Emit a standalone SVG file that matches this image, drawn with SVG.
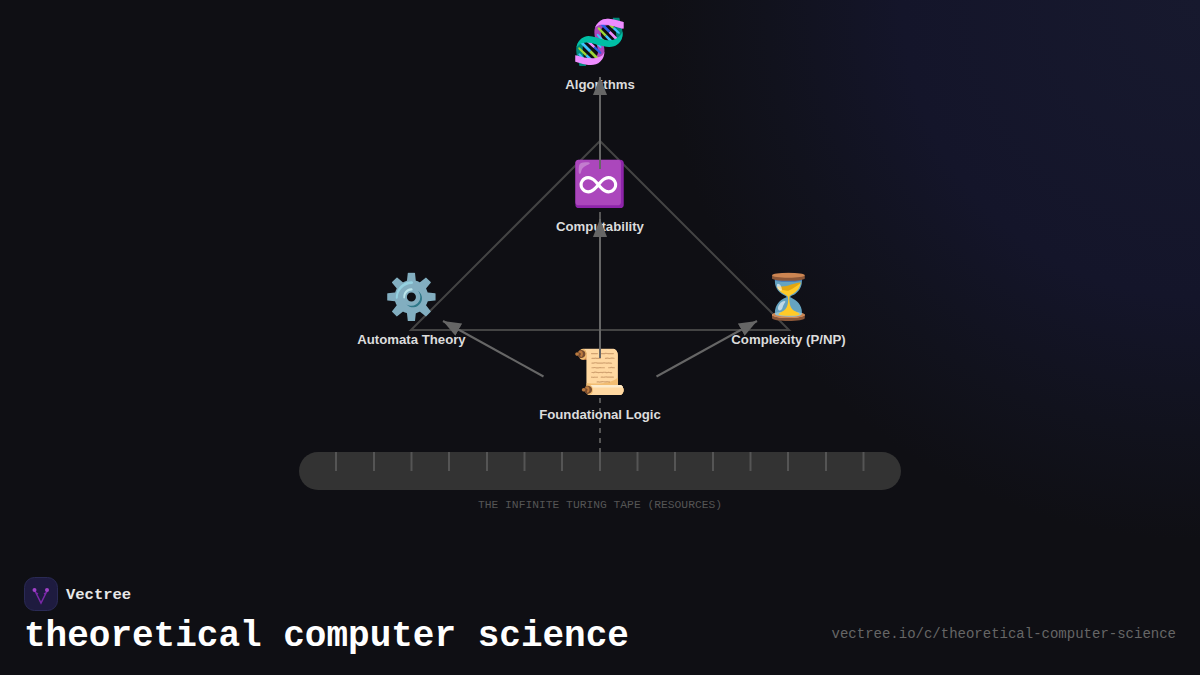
<svg xmlns="http://www.w3.org/2000/svg" width="1200" height="675" viewBox="0 0 1200 675">
<style>
.emoji{font-family:"Noto Color Emoji","Noto Sans",sans-serif;font-size:44px;text-anchor:middle}
.lbl{font-family:"Liberation Sans",Arial,sans-serif;font-size:13.200px;font-weight:700;fill:#dcdcdc;text-anchor:middle}
.arrow{stroke:#666;stroke-width:2;fill:none;marker-end:url(#ahb)}
.tick{stroke:#555;stroke-width:2}
</style>
<defs>
<radialGradient id="glow" gradientUnits="userSpaceOnUse" cx="1200" cy="0" r="540">
<stop offset="0" stop-color="#17192e"/><stop offset="0.55" stop-color="#14152a"/><stop offset="0.8" stop-color="#11121d"/><stop offset="1" stop-color="#0f0f14"/>
</radialGradient>
<marker id="ahb" markerUnits="userSpaceOnUse" markerWidth="18" markerHeight="14" refX="18" refY="7" orient="auto">
<path d="M0 0L18 7L0 14Z" fill="#666"/>
</marker>
</defs>
<rect width="1200" height="675" fill="#0f0f14"/>
<rect width="1200" height="675" fill="url(#glow)"/>
<g id="tape">
<rect x="299" y="452" width="602" height="38" rx="19" fill="#333"/>
<path class="tick" d="M336 452v19M374 452v19M411.500 452v19M449 452v19M487 452v19M524.500 452v19M562 452v19M600 452v19M637.500 452v19M675 452v19M713 452v19M750.500 452v19M788 452v19M826 452v19M863.500 452v19"/>
<text x="600" y="508" text-anchor="middle" font-family="Liberation Mono,monospace" font-size="11.300" fill="#555">THE INFINITE TURING TAPE (RESOURCES)</text>
</g>
<g id="connectors">
<path d="M600 141L789 330H411Z" fill="none" stroke="#444" stroke-width="2"/>
<path d="M600 398V453" stroke="#555" stroke-width="2" stroke-dasharray="5 5" fill="none"/>
<path d="M600 212V219" stroke="#555" stroke-width="2" fill="none"/>
</g>
<g id="node-algorithms"><text class="emoji" x="600" y="57">🧬</text><text class="lbl" x="600" y="89">Algorithms</text></g>
<g id="node-computability"><text class="emoji" x="600" y="198.500">♾️</text><text class="lbl" x="600" y="231">Computability</text></g>
<g id="node-automata"><text class="emoji" x="411.500" y="312">⚙️</text><text class="lbl" x="411.500" y="344">Automata Theory</text></g>
<g id="node-complexity"><text class="emoji" x="788.500" y="312">⏳</text><text class="lbl" x="788.500" y="344">Complexity (P/NP)</text></g>
<g id="node-logic"><text class="emoji" x="600" y="387">📜</text><text class="lbl" x="600" y="419">Foundational Logic</text></g>
<g id="arrows">
<path class="arrow" d="M600 358V219"/>
<path class="arrow" d="M600 169V77"/>
<path class="arrow" d="M543.500 376.500L443 321"/>
<path class="arrow" d="M656.500 376.500L757 321"/>
</g>
<g id="brand">
<rect x="24.500" y="577.500" width="33" height="33" rx="10" fill="#1e1b3f" stroke="#2a2a55"/>
<path d="M35 591L41 603L47 591M35 592L38 594M47 592L44 594" fill="none" stroke="#7a28a8" stroke-width="1.500"/>
<circle cx="34.500" cy="590" r="2" fill="#a040c8"/><circle cx="47" cy="590" r="2" fill="#a040c8"/>
<text x="66" y="598.500" font-family="Liberation Mono,monospace" font-size="15.500" font-weight="700" fill="#e8e8e8">Vectree</text>
<text x="24" y="645.500" font-family="Liberation Mono,monospace" font-size="36" font-weight="700" fill="#fff">theoretical computer science</text>
<text x="1176" y="637.500" text-anchor="end" font-family="Liberation Mono,monospace" font-size="14" fill="#666">vectree.io/c/theoretical-computer-science</text>
</g>
</svg>
